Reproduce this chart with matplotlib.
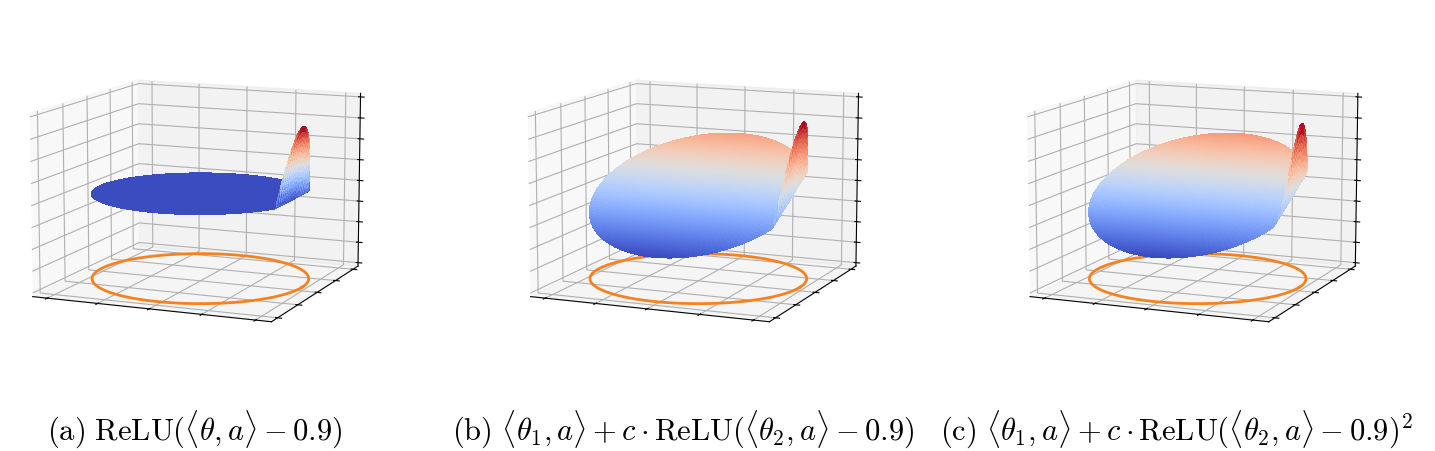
import numpy as np
import matplotlib
matplotlib.use("Agg")
import matplotlib.pyplot as plt
from matplotlib import cm

plt.rcParams['mathtext.fontset'] = 'cm'

# ---- data / parameters ----
thresholds = [0.9, 0.9, 0.9]            # ReLU shift
plane_weights = [0.0, 1.0, 1.0]         # weight of <theta1, a>
relu_scales = [0.85, 17.5, 175.0]       # c (peak heights)
relu_powers = [1, 1, 2]
z_ranges = [(-0.1, 0.1), (-2.0, 2.0), (-2.0, 2.0)]
z_steps = [0.025, 0.5, 0.5]
theta1 = (0.0, 1.0)
theta2 = (1.0, 0.0)
xy_ticks = [-1.0, -0.5, 0.0, 0.5, 1.0]
xy_lim = (-1.146, 1.146)
captions = [
    r"$\mathrm{(a)}\ \mathrm{ReLU}(\langle\theta, a\rangle - 0.9)$",
    r"$\mathrm{(b)}\ \langle\theta_1, a\rangle + c\cdot\mathrm{ReLU}(\langle\theta_2, a\rangle - 0.9)$",
    r"$\mathrm{(c)}\ \langle\theta_1, a\rangle + c\cdot\mathrm{ReLU}(\langle\theta_2, a\rangle - 0.9)^2$",
]
caption_x = [0.136, 0.476, 0.8195]
axes_left = [-0.0095, 0.3375, 0.6855]

r = np.linspace(0, 1, 150)
t = np.linspace(0, 2 * np.pi, 500)
R, T = np.meshgrid(r, t)
X = R * np.cos(T)
Y = R * np.sin(T)

fig = plt.figure(figsize=(14.35, 4.52), dpi=100)
for i in range(3):
    ax = fig.add_axes([axes_left[i], 0.1335, 0.291, 0.853], projection='3d')
    ax.set_box_aspect((4, 4, 2.9))
    p1 = theta1[0] * X + theta1[1] * Y
    p2 = theta2[0] * X + theta2[1] * Y
    Z = plane_weights[i] * p1 + relu_scales[i] * np.maximum(p2 - thresholds[i], 0) ** relu_powers[i]
    ax.plot_surface(X, Y, Z, cmap=cm.coolwarm, linewidth=0, antialiased=False,
                    rcount=150, ccount=500)
    zlo, zhi = z_ranges[i]
    pad = (zhi - zlo) / 48
    ax.plot(np.cos(t), np.sin(t), zlo * np.ones_like(t), color='#f5821f', lw=2)
    ax.view_init(elev=11, azim=-67)
    ax.set_xlim(*xy_lim)
    ax.set_ylim(*xy_lim)
    ax.set_zlim(zlo - pad, zhi + pad)
    ax.set_xticks(xy_ticks)
    ax.set_yticks(xy_ticks)
    ax.set_zticks(np.arange(zlo, zhi + z_steps[i] / 2, z_steps[i]))
    ax.set_xticklabels([])
    ax.set_yticklabels([])
    ax.set_zticklabels([])
    fig.text(caption_x[i], 0.051, captions[i], ha='center', va='center', fontsize=22)

fig.savefig("out.png", dpi=100)
